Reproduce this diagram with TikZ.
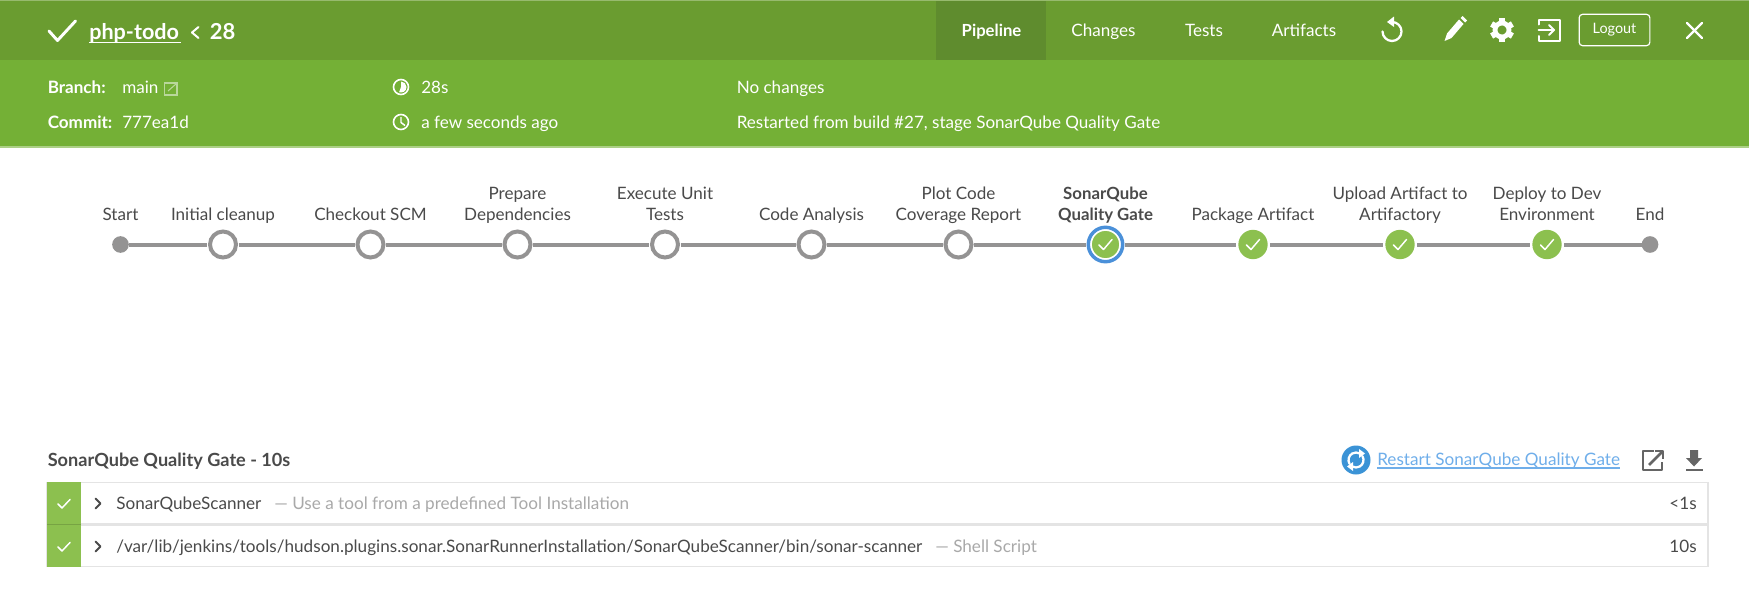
\documentclass[tikz,border=0pt]{standalone}
\usepackage{fontspec}
\usetikzlibrary{calc}
\setmainfont{Lato}
\definecolor{hdark}{HTML}{6A9C30}
\definecolor{hlight}{HTML}{74B036}
\definecolor{hact}{HTML}{5F8C2E}
\definecolor{okgreen}{HTML}{8CC04F}
\definecolor{gline}{HTML}{949393}
\definecolor{txt}{HTML}{4A4A4A}
\definecolor{mut}{HTML}{A9A9A9}
\definecolor{bord}{HTML}{E4E4E4}
\definecolor{bluer}{HTML}{4A90D9}
\definecolor{linkb}{HTML}{6FAEEA}
\definecolor{iconb}{HTML}{3B93D6}
\newcommand{\pxfont}[1]{\fontsize{#1}{#1}\selectfont}
\tikzset{
 px/.style={x=0.75pt,y=-0.75pt},
 hdr/.style={text=white,anchor=base west,inner sep=0,font=\pxfont{12.8pt}},
 hdrb/.style={hdr,font=\pxfont{12.8pt}\bfseries},
 tab/.style={text=white,anchor=base,inner sep=0,font=\pxfont{12.8pt}},
 stagelabel/.style={text=txt,anchor=south,align=center,inner sep=0,font=\pxfont{12.8pt},text depth=0.28em},
 hollow/.style={circle,draw=gline,line width=3pt,fill=white,minimum size=19.5pt,inner sep=0,outer sep=2pt},
 okstage/.style={circle,fill=okgreen,minimum size=22pt,inner sep=0,outer sep=2pt},
 term/.style={circle,fill=gline,minimum size=12.5pt,inner sep=0,outer sep=0},
 link/.style={draw=gline,line width=3pt},
 chk/.style={draw=white,line width=1.1pt,line cap=round,line join=round},
 ico/.style={draw=white,line width=1.5pt,line cap=round,line join=round},
 rowbox/.style={draw=bord,line width=1.2pt,fill=white},
 rowtext/.style={anchor=base west,inner sep=0,text=txt,font=\pxfont{12.85pt}},
 rowmut/.style={anchor=base west,inner sep=0,text=mut,font=\pxfont{12.85pt}},
 rowtime/.style={anchor=base east,inner sep=0,text=txt,font=\pxfont{12.85pt}},
 chev/.style={draw=txt,line width=1.5pt,line cap=round,line join=round},
}
\begin{document}
\begin{tikzpicture}[px]
\useasboundingbox (0,0) rectangle (1749,600);
\fill[white] (0,0) rectangle (1749,600);
% header
\fill[hdark] (0,0) rectangle (1749,60);
\fill[hlight] (0,60) rectangle (1749,147);
\fill[hdark!70!white] (0,0) rectangle (1749,1.3);
\fill[hlight!60!white] (0,146.4) rectangle (1749,148);
\fill[hact] (936,1.3) rectangle (1046,60);
% title
\draw[white,line width=2.2pt,line cap=round,line join=round] (49,31) -- (57.5,40.5) -- (75.5,21);
\node[hdr,font=\pxfont{16.2pt}\bfseries] (title) at (89,39) {php-todo};
\draw[white,line width=1pt] (89,42.5) -- (180.5,42.5);
\draw[white,line width=1.5pt,line cap=round,line join=round] (198.5,27) -- (192,32.5) -- (198.5,38);
\node[hdr,font=\pxfont{16.5pt}\bfseries] (build) at (209.5,39) {28};
% tabs
\node[tab,font=\pxfont{12.5pt}\bfseries] (tp) at (991.5,36) {Pipeline};
\node[tab] (tc) at (1103.5,36) {Changes};
\node[tab] (tt) at (1204,36) {Tests};
\node[tab] (ta) at (1304,36) {Artifacts};
% icons top right
\draw[ico,line width=1.7pt] (1392,31.5) ++(0,-9.5) arc[start angle=270,end angle=540,radius=9.5];
\fill[white] (1394,16.5) -- (1394,27) -- (1387,22) -- cycle;
\fill[white] (1447,33.5) -- (1444.5,41) -- (1451.5,38) -- (1463.5,24) -- (1459,19.5) -- cycle;
\fill[white] (1460.5,18) -- (1462.5,16) -- (1467,20.5) -- (1465,22.5) -- cycle;
\draw[white,line width=3.6pt] (1502,30) circle[radius=7];
\foreach \a in {0,60,...,300}{\fill[white,rotate around={\a:(1502,30)}] (1499,18) rectangle (1505,24);}
\draw[ico] (1539,24.5) -- (1539,19.5) -- (1560,19.5) -- (1560,41) -- (1539,41) -- (1539,36);
\draw[ico] (1538.5,30) -- (1554,30);
\draw[ico] (1549,25) -- (1554,30) -- (1549,35);
\node[draw=white,line width=.9pt,rounded corners=2.5pt,minimum width=53pt,minimum height=23.5pt,inner sep=0,text=white,font=\pxfont{10.8pt}] (logout) at (1614.5,30) {\raisebox{-1.5pt}{Logout}};
\draw[ico,line width=1.7pt] (1687,23) -- (1702,38);
\draw[ico,line width=1.7pt] (1702,23) -- (1687,38);
% info rows
\node[hdrb] (lb) at (47.5,93) {Branch:};
\node[hdr] (lbv) at (122,93) {main};
\draw[white!50!hlight,line width=.8pt] (164.5,83) rectangle (177,95);
\draw[white!50!hlight,line width=.8pt] (168,91) -- (176,84);
\node[hdrb] (lc) at (47.5,128.7) {Commit:};
\node[hdr] (lcv) at (122,128.7) {777ea1d};
\draw[white,line width=1.2pt] (401,87) circle[radius=7.5];
\fill[white] (401,87) -- ++(0,-5.5) arc[start angle=270,end angle=470,radius=5.5] -- cycle;
\node[hdr] (dur) at (421,93) {28s};
\draw[white,line width=1.2pt] (401,122) circle[radius=7.5];
\draw[white,line width=1.1pt] (401,117) -- (401,122.5) -- (405,125.5);
\node[hdr] (ago) at (421,128.7) {a few seconds ago};
\node[hdr] (nc) at (736.5,93) {No changes};
\node[hdr] (rs) at (736.5,128.7) {Restarted from build \#27, stage SonarQube Quality Gate};
% stages
\node[term] (s0) at (120.5,244.5) {};
\node[hollow] (s1) at (223,244.5) {};
\node[hollow] (s2) at (370.5,244.5) {};
\node[hollow] (s3) at (517.5,244.5) {};
\node[hollow] (s4) at (665,244.5) {};
\node[hollow] (s5) at (811.5,244.5) {};
\node[hollow] (s6) at (958.5,244.5) {};
\node[okstage,draw=white,line width=1.5pt,outer sep=3.5pt] (s7) at (1105.5,244.5) {};
\draw[bluer,line width=2.6pt] (s7.center) circle[radius=17.2];
\node[okstage] (s8) at (1253,244.5) {};
\node[okstage] (s9) at (1400,244.5) {};
\node[okstage] (s10) at (1547,244.5) {};
\node[term] (s11) at (1650,244.5) {};
\foreach \a/\b in {s0/s1,s1/s2,s2/s3,s3/s4,s4/s5,s5/s6,s6/s7,s7/s8,s8/s9,s9/s10,s10/s11}{\draw[link] (\a) -- (\b);}
\foreach \n in {s7,s8,s9,s10}{\draw[chk] ($(\n.center)+(-6.5,0.5)$) -- ++(4.5,4.5) -- ++(8.5,-10);}
% labels
\node[stagelabel] (l0) at (120.5,224.5) {Start};
\node[stagelabel] (l1) at (223,224.5) {Initial cleanup};
\node[stagelabel] (l2) at (370.5,224.5) {Checkout SCM};
\node[stagelabel] (l3) at (517.5,224.5) {Prepare\\[3.1pt]Dependencies};
\node[stagelabel] (l4) at (665,224.5) {Execute Unit\\[3.1pt]Tests};
\node[stagelabel] (l5) at (811.5,224.5) {Code Analysis};
\node[stagelabel] (l6) at (958.5,224.5) {Plot Code\\[3.1pt]Coverage Report};
\node[stagelabel,font=\pxfont{12.6pt}\bfseries] (l7) at (1105.5,224.5) {SonarQube\\[3.3pt]Quality Gate};
\node[stagelabel] (l8) at (1253,224.5) {Package Artifact};
\node[stagelabel] (l9) at (1400,224.5) {Upload Artifact to\\[3.1pt]Artifactory};
\node[stagelabel] (l10) at (1547,224.5) {Deploy to Dev\\[3.1pt]Environment};
\node[stagelabel] (l11) at (1650,224.5) {End};
% log section
\node[anchor=base west,inner sep=0,text=txt,font=\pxfont{13.6pt}\bfseries] (sec) at (47.5,466.5) {SonarQube Quality Gate - 10s};
\fill[iconb] (1356,460) circle[radius=14.5];
\draw[white,line width=1.7pt,line cap=round] (1356,460) ++(150:7.5) arc[start angle=150,end angle=300,radius=7.5];
\fill[white] (1359,449) -- (1359,458) -- (1365,453.5) -- cycle;
\draw[white,line width=1.7pt,line cap=round] (1356,460) ++(330:7.5) arc[start angle=330,end angle=480,radius=7.5];
\fill[white] (1353,462) -- (1353,471) -- (1347,466.5) -- cycle;
\node[anchor=base west,inner sep=0,text=linkb,font=\pxfont{12.85pt}] (rst) at (1377,465.5) {Restart SonarQube Quality Gate};
\draw[linkb,line width=.8pt] (1377,468) -- (1620,468);
\draw[txt!85!white,line width=1.9pt,line join=round] (1662,451) -- (1643,451) -- (1643,470) -- (1662,470) -- (1662,462);
\fill[white] (1654,448) rectangle (1666,458);
\draw[txt!85!white,line width=1.9pt] (1649,465) -- (1662,452);
\draw[txt!85!white,line width=1.9pt,line join=round] (1655,451) -- (1663,451) -- (1663,459);
\fill[txt!85!white] (1690,450) -- (1698,450) -- (1698,458) -- (1702,458) -- (1694,466.5) -- (1686,458) -- (1690,458) -- cycle;
\fill[txt!85!white] (1686,469) rectangle (1703,471);
% rows
\draw[rowbox] (47,482.5) rectangle (1708,524);
\draw[rowbox] (47,525.5) rectangle (1708,566.5);
\fill[okgreen] (47,482) rectangle (81,567);
\draw[okgreen!85!black,line width=.5pt] (47,524.5) -- (81,524.5);
\draw[chk] (58,504) -- ++(4,4) -- ++(8,-8.5);
\draw[chk] (58,547) -- ++(4,4) -- ++(8,-8.5);
\draw[chev] (95.5,498.5) -- (100.5,503.5) -- (95.5,508.5);
\draw[chev] (95.5,541.5) -- (100.5,546.5) -- (95.5,551.5);
\node[rowtext] (r1) at (116,509) {SonarQubeScanner};
\node[rowmut] (r1d) at (274,509) {— Use a tool from a predefined Tool Installation};
\node[rowtime] (r1t) at (1697,509) {<1s};
\node[rowtext] (r2) at (116,552) {/var/lib/jenkins/tools/hudson.plugins.sonar.SonarRunnerInstallation/SonarQubeScanner/bin/sonar-scanner};
\node[rowmut] (r2d) at (935,552) {— Shell Script};
\node[rowtime] (r2t) at (1697,552) {10s};
\end{tikzpicture}
\end{document}
